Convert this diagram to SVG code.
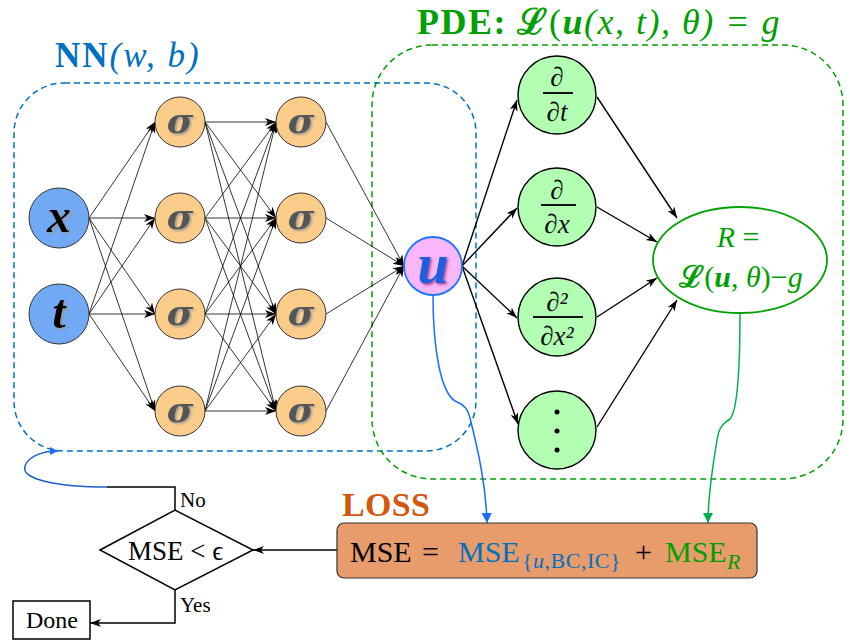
<svg xmlns="http://www.w3.org/2000/svg" width="850" height="643" viewBox="0 0 850 643">
<defs>
<style>
text{font-family:"Liberation Serif","DejaVu Serif",serif;}
.c{stroke:#000;stroke-width:0.8;fill:none;}
.ct{stroke:#000;stroke-width:1.4;fill:none;}
.inp{fill:#71A9F5;stroke:#333;stroke-width:1;}
.hid{fill:#FCCD8A;stroke:#333;stroke-width:1;}
.der{fill:#B2FFB4;stroke:#000;stroke-width:1.4;}
.sig{font-family:"DejaVu Serif",serif;font-size:36px;font-style:italic;font-weight:bold;fill:#555;text-anchor:middle;}
.dd{font-size:27px;font-style:italic;text-anchor:middle;fill:#111;}
.bar{stroke:#111;stroke-width:2;}
.gr{fill:#00A000;}
.bl{fill:#0070C0;}
</style>
<filter id="sh" x="-30%" y="-30%" width="160%" height="160%"><feDropShadow dx="1.5" dy="1.5" stdDeviation="0.8" flood-color="#999"/></filter>
<filter id="shp" x="-30%" y="-30%" width="160%" height="160%"><feDropShadow dx="1.5" dy="1.5" stdDeviation="0.8" flood-color="#B04090"/></filter>
<marker id="a" markerUnits="userSpaceOnUse" markerWidth="12" markerHeight="10" refX="11" refY="4" orient="auto"><path d="M0,0 L11,4 L0,8 L3,4 z" fill="#000"/></marker>
<marker id="ab" markerUnits="userSpaceOnUse" markerWidth="12" markerHeight="12" refX="10" refY="5" orient="auto"><path d="M0,0 L10,5 L0,10 z" fill="#1A6CFF"/></marker>
<marker id="ag" markerUnits="userSpaceOnUse" markerWidth="12" markerHeight="12" refX="10" refY="5" orient="auto"><path d="M0,0 L10,5 L0,10 z" fill="#00B050"/></marker>
<marker id="ab2" markerUnits="userSpaceOnUse" markerWidth="10" markerHeight="10" refX="8" refY="4" orient="auto"><path d="M0,0 L8,4 L0,8 z" fill="#1A6CFF"/></marker>
</defs>

<g id="nn-box">
<rect x="14" y="83" width="462" height="368" rx="50" ry="50" fill="none" stroke="#0070C0" stroke-width="1.5" stroke-dasharray="6,4"/>
<text x="55" y="67" font-size="35" letter-spacing="2" class="bl"><tspan font-weight="bold">NN</tspan><tspan font-style="italic">(w, b)</tspan></text>
</g>
<g id="pde-box">
<rect x="372" y="45" width="471" height="434" rx="60" ry="60" fill="none" stroke="#00A000" stroke-width="1.5" stroke-dasharray="6,4"/>
<text x="417" y="34" font-size="36" letter-spacing="1.5" class="gr"><tspan font-weight="bold">PDE: ℒ</tspan><tspan>(</tspan><tspan font-weight="bold" font-style="italic">u</tspan><tspan font-style="italic">(x, t), θ) = g</tspan></text>
</g>

<g id="connectors">
<line class="c" x1="89" y1="218" x2="155" y2="122" marker-end="url(#a)"/>
<line class="c" x1="89" y1="218" x2="155" y2="218" marker-end="url(#a)"/>
<line class="c" x1="89" y1="218" x2="155" y2="314" marker-end="url(#a)"/>
<line class="c" x1="89" y1="218" x2="155" y2="411" marker-end="url(#a)"/>
<line class="c" x1="89" y1="314" x2="155" y2="122" marker-end="url(#a)"/>
<line class="c" x1="89" y1="314" x2="155" y2="218" marker-end="url(#a)"/>
<line class="c" x1="89" y1="314" x2="155" y2="314" marker-end="url(#a)"/>
<line class="c" x1="89" y1="314" x2="155" y2="411" marker-end="url(#a)"/>
<line class="c" x1="205" y1="122" x2="276" y2="122" marker-end="url(#a)"/>
<line class="c" x1="205" y1="122" x2="276" y2="218" marker-end="url(#a)"/>
<line class="c" x1="205" y1="122" x2="276" y2="314" marker-end="url(#a)"/>
<line class="c" x1="205" y1="122" x2="276" y2="411" marker-end="url(#a)"/>
<line class="c" x1="205" y1="218" x2="276" y2="122" marker-end="url(#a)"/>
<line class="c" x1="205" y1="218" x2="276" y2="218" marker-end="url(#a)"/>
<line class="c" x1="205" y1="218" x2="276" y2="314" marker-end="url(#a)"/>
<line class="c" x1="205" y1="218" x2="276" y2="411" marker-end="url(#a)"/>
<line class="c" x1="205" y1="314" x2="276" y2="122" marker-end="url(#a)"/>
<line class="c" x1="205" y1="314" x2="276" y2="218" marker-end="url(#a)"/>
<line class="c" x1="205" y1="314" x2="276" y2="314" marker-end="url(#a)"/>
<line class="c" x1="205" y1="314" x2="276" y2="411" marker-end="url(#a)"/>
<line class="c" x1="205" y1="411" x2="276" y2="122" marker-end="url(#a)"/>
<line class="c" x1="205" y1="411" x2="276" y2="218" marker-end="url(#a)"/>
<line class="c" x1="205" y1="411" x2="276" y2="314" marker-end="url(#a)"/>
<line class="c" x1="205" y1="411" x2="276" y2="411" marker-end="url(#a)"/>
<line class="c" x1="326" y1="122" x2="404" y2="266" marker-end="url(#a)"/>
<line class="c" x1="326" y1="218" x2="404" y2="266" marker-end="url(#a)"/>
<line class="c" x1="326" y1="314" x2="404" y2="266" marker-end="url(#a)"/>
<line class="c" x1="326" y1="411" x2="404" y2="266" marker-end="url(#a)"/>
<line class="ct" x1="462" y1="266" x2="517" y2="100" marker-end="url(#a)"/>
<line class="ct" x1="462" y1="266" x2="517" y2="208" marker-end="url(#a)"/>
<line class="ct" x1="462" y1="266" x2="517" y2="318" marker-end="url(#a)"/>
<line class="ct" x1="462" y1="266" x2="518" y2="424" marker-end="url(#a)"/>
<line class="ct" x1="597" y1="97" x2="677" y2="218" marker-end="url(#a)"/>
<line class="ct" x1="597" y1="207" x2="657" y2="242" marker-end="url(#a)"/>
<line class="ct" x1="597" y1="317" x2="657" y2="278" marker-end="url(#a)"/>
<line class="ct" x1="597" y1="427" x2="677" y2="300" marker-end="url(#a)"/>
<path d="M433,296 C433,345 440,395 457,402 C465,405 468,410 470,418 C478,450 486,485 487,523" fill="none" stroke="#1A6CFF" stroke-width="1.5" marker-end="url(#ab)"/>
<path d="M740,313 C740,360 738,410 730,419 C722,424 719,428 717,440 C712,470 708,500 708,523" fill="none" stroke="#00B050" stroke-width="1.5" marker-end="url(#ag)"/>
<line x1="337" y1="550" x2="253" y2="550" stroke="#000" stroke-width="1.5" marker-end="url(#a)"/>
<polyline points="175,510 175,487 107,487" fill="none" stroke="#000" stroke-width="1.5"/>
<path d="M107,487 C60,487 20,480 25,466 C29,455 45,451 58,451" fill="none" stroke="#1A5FD0" stroke-width="1.5" marker-end="url(#ab2)"/>
<polyline points="175,590 175,623 90,623" fill="none" stroke="#000" stroke-width="1.5" marker-end="url(#a)"/>
</g>

<g id="node-x"><circle class="inp" cx="59" cy="218" r="30"/><text x="59" y="232" font-size="48" font-style="italic" font-weight="bold" text-anchor="middle" filter="url(#sh)">x</text></g>
<g id="node-t"><circle class="inp" cx="59" cy="314" r="30"/><text x="59" y="328" font-size="48" font-style="italic" font-weight="bold" text-anchor="middle" filter="url(#sh)">t</text></g>

<g id="h1-1"><circle class="hid" cx="180" cy="122" r="25"/><text class="sig" x="180" y="133" filter="url(#sh)">σ</text></g>
<g id="h1-2"><circle class="hid" cx="180" cy="218" r="25"/><text class="sig" x="180" y="229" filter="url(#sh)">σ</text></g>
<g id="h1-3"><circle class="hid" cx="180" cy="314" r="25"/><text class="sig" x="180" y="325" filter="url(#sh)">σ</text></g>
<g id="h1-4"><circle class="hid" cx="180" cy="411" r="25"/><text class="sig" x="180" y="422" filter="url(#sh)">σ</text></g>
<g id="h2-1"><circle class="hid" cx="301" cy="122" r="25"/><text class="sig" x="301" y="133" filter="url(#sh)">σ</text></g>
<g id="h2-2"><circle class="hid" cx="301" cy="218" r="25"/><text class="sig" x="301" y="229" filter="url(#sh)">σ</text></g>
<g id="h2-3"><circle class="hid" cx="301" cy="314" r="25"/><text class="sig" x="301" y="325" filter="url(#sh)">σ</text></g>
<g id="h2-4"><circle class="hid" cx="301" cy="411" r="25"/><text class="sig" x="301" y="422" filter="url(#sh)">σ</text></g>

<g id="node-u"><circle cx="433" cy="266" r="29" fill="#F9B6F9" stroke="#1A78FF" stroke-width="1.8"/><text x="433" y="283" font-size="56" font-style="italic" font-weight="bold" fill="#1A5FE0" text-anchor="middle" filter="url(#shp)">u</text></g>

<g id="d-t"><circle class="der" cx="557" cy="95" r="39"/><text class="dd" x="557" y="86">∂</text><line class="bar" x1="543" y1="93" x2="573" y2="93"/><text class="dd" x="557" y="121">∂t</text></g>
<g id="d-x"><circle class="der" cx="557" cy="207" r="39"/><text class="dd" x="557" y="199">∂</text><line class="bar" x1="541" y1="205" x2="576" y2="205"/><text class="dd" x="557" y="233">∂x</text></g>
<g id="d-xx"><circle class="der" cx="557" cy="317" r="39"/><text class="dd" x="557" y="311">∂²</text><line class="bar" x1="533" y1="317" x2="583" y2="317"/><text class="dd" x="557" y="345">∂x²</text></g>
<g id="d-dots"><circle class="der" cx="557" cy="430" r="39"/><circle cx="557" cy="412" r="2.5" fill="#000"/><circle cx="557" cy="431" r="2.5" fill="#000"/><circle cx="557" cy="450" r="2.5" fill="#000"/></g>

<g id="node-R"><ellipse cx="740" cy="260" rx="87" ry="53" fill="#fff" stroke="#00A000" stroke-width="1.8"/>
<text x="738" y="247" font-size="30" class="gr" text-anchor="middle"><tspan font-style="italic">R</tspan> =</text>
<text x="741" y="287" font-size="30" class="gr" text-anchor="middle"><tspan font-weight="bold">ℒ</tspan>(<tspan font-weight="bold" font-style="italic">u</tspan>, <tspan font-style="italic">θ</tspan>)−<tspan font-style="italic">g</tspan></text></g>

<g id="loss">
<text x="342" y="516" font-size="34" font-weight="bold" fill="#D4570D" textLength="88">LOSS</text>
<rect x="337" y="523" width="420" height="55" rx="7" ry="7" fill="#E89C6C" stroke="#333" stroke-width="1.2"/>
<text y="562" font-size="30"><tspan x="350">MSE</tspan><tspan x="422">=</tspan><tspan x="458" class="bl">MSE</tspan><tspan x="522" y="568" font-size="22" letter-spacing="0.5" class="bl">{<tspan font-style="italic">u</tspan>,BC,IC}</tspan><tspan x="635" y="562">+</tspan><tspan x="665" class="gr">MSE</tspan><tspan x="727" y="569" font-size="22" font-style="italic" class="gr">R</tspan></text>
</g>

<g id="decision"><polygon points="100,550 175,510 253,550 175,590" fill="#fff" stroke="#000" stroke-width="1.5"/><text x="128" y="560" font-size="27">MSE &lt; ϵ</text></g>
<g id="lbl-no"><text x="180" y="507" font-size="21">No</text></g>
<g id="lbl-yes"><text x="180" y="612" font-size="21">Yes</text></g>
<g id="done"><rect x="13" y="601" width="77" height="38" fill="#fff" stroke="#000" stroke-width="1.5"/><text x="52" y="628" font-size="24" text-anchor="middle">Done</text></g>
</svg>
